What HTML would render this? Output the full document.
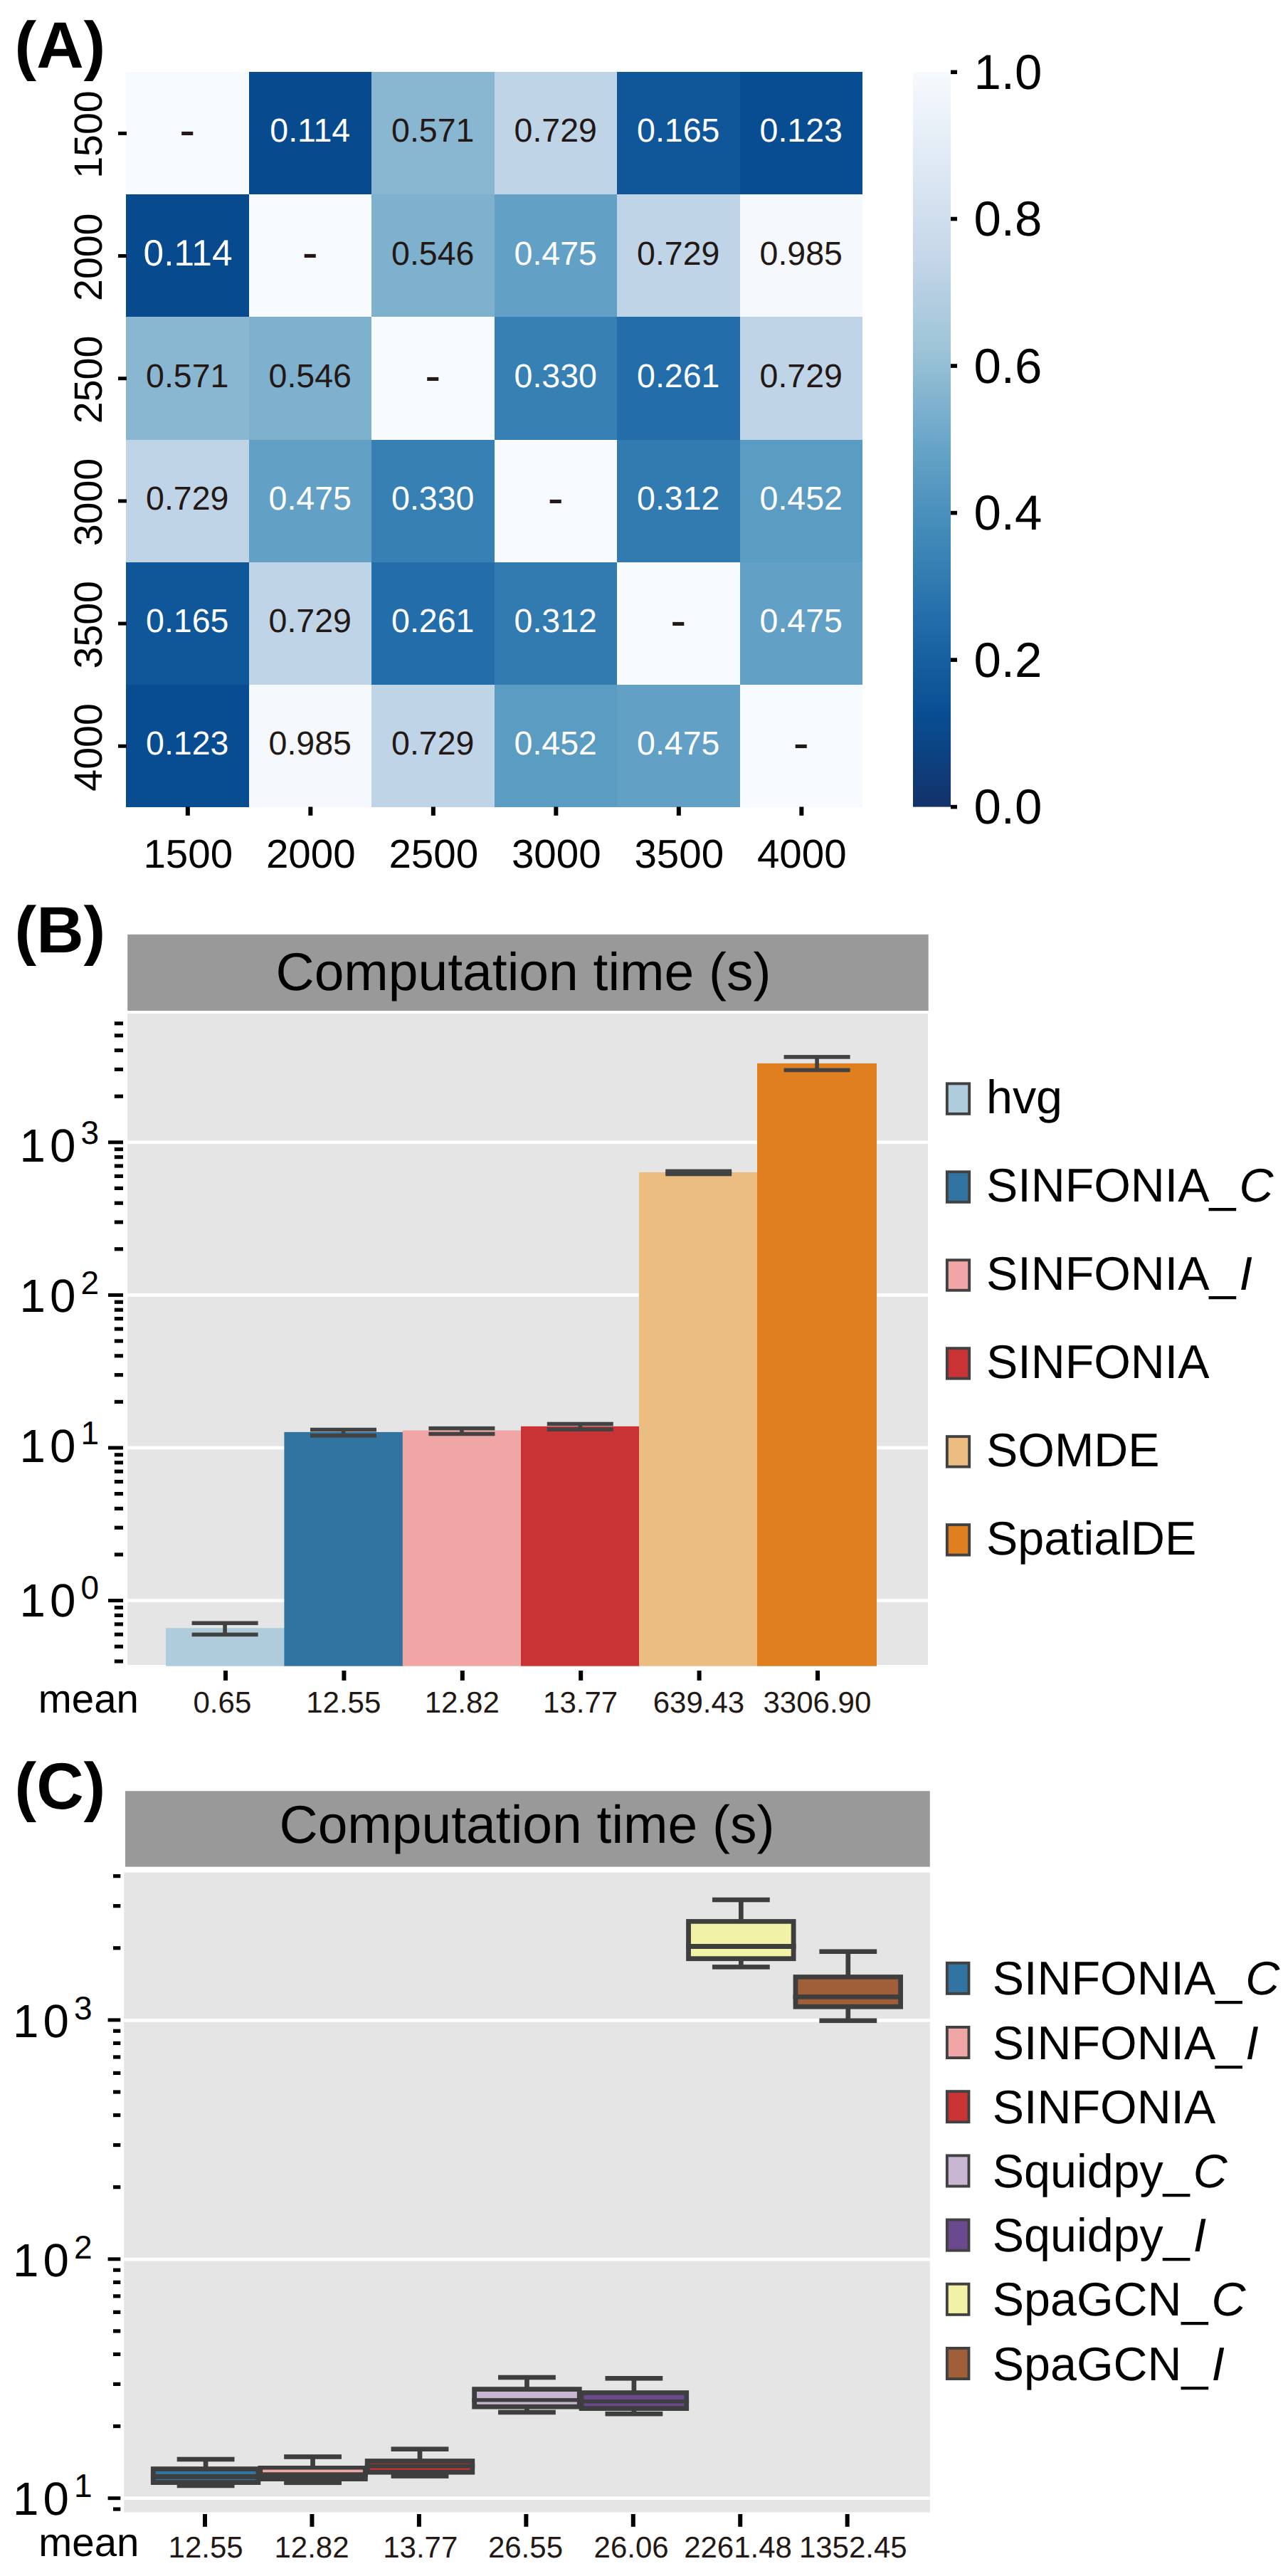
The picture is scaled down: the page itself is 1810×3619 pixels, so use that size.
<!DOCTYPE html>
<html><head><meta charset="utf-8"><title>Figure</title>
<style>
html,body{margin:0;padding:0;background:#fff;}
svg{display:block;font-family:"Liberation Sans", Arial, sans-serif;}
</style></head><body>
<svg width="1810" height="3619" viewBox="0 0 1810 3619" text-rendering="geometricPrecision">
<rect width="1810" height="3619" fill="#fff"/>
<text x="20.50" y="94.70" font-size="92" text-anchor="start" fill="#000" font-weight="bold" font-style="normal" >(A)</text>
<text x="20.50" y="1337.60" font-size="92" text-anchor="start" fill="#000" font-weight="bold" font-style="normal" >(B)</text>
<text x="20.50" y="2541.30" font-size="92" text-anchor="start" fill="#000" font-weight="bold" font-style="normal" >(C)</text>
<rect x="177.00" y="101.00" width="173.00" height="172.00" fill="#f7fafe" />
<rect x="350.00" y="101.00" width="172.00" height="172.00" fill="#084a8e" />
<rect x="522.00" y="101.00" width="173.00" height="172.00" fill="#89b7d1" />
<rect x="695.00" y="101.00" width="172.00" height="172.00" fill="#bfd4e6" />
<rect x="867.00" y="101.00" width="173.00" height="172.00" fill="#105799" />
<rect x="1040.00" y="101.00" width="172.00" height="172.00" fill="#084c91" />
<rect x="177.00" y="273.00" width="173.00" height="172.00" fill="#084a8e" />
<rect x="350.00" y="273.00" width="172.00" height="172.00" fill="#f7fafe" />
<rect x="522.00" y="273.00" width="173.00" height="172.00" fill="#7db1ce" />
<rect x="695.00" y="273.00" width="172.00" height="172.00" fill="#63a0c5" />
<rect x="867.00" y="273.00" width="173.00" height="172.00" fill="#bfd4e6" />
<rect x="1040.00" y="273.00" width="172.00" height="172.00" fill="#f5f8fd" />
<rect x="177.00" y="445.00" width="173.00" height="173.00" fill="#89b7d1" />
<rect x="350.00" y="445.00" width="172.00" height="173.00" fill="#7db1ce" />
<rect x="522.00" y="445.00" width="173.00" height="173.00" fill="#f7fafe" />
<rect x="695.00" y="445.00" width="172.00" height="173.00" fill="#3680b4" />
<rect x="867.00" y="445.00" width="173.00" height="173.00" fill="#236eaa" />
<rect x="1040.00" y="445.00" width="172.00" height="173.00" fill="#bfd4e6" />
<rect x="177.00" y="618.00" width="173.00" height="172.00" fill="#bfd4e6" />
<rect x="350.00" y="618.00" width="172.00" height="172.00" fill="#63a0c5" />
<rect x="522.00" y="618.00" width="173.00" height="172.00" fill="#3680b4" />
<rect x="695.00" y="618.00" width="172.00" height="172.00" fill="#f7fafe" />
<rect x="867.00" y="618.00" width="173.00" height="172.00" fill="#317bb1" />
<rect x="1040.00" y="618.00" width="172.00" height="172.00" fill="#5b9cc2" />
<rect x="177.00" y="790.00" width="173.00" height="172.00" fill="#105799" />
<rect x="350.00" y="790.00" width="172.00" height="172.00" fill="#bfd4e6" />
<rect x="522.00" y="790.00" width="173.00" height="172.00" fill="#236eaa" />
<rect x="695.00" y="790.00" width="172.00" height="172.00" fill="#317bb1" />
<rect x="867.00" y="790.00" width="173.00" height="172.00" fill="#f7fafe" />
<rect x="1040.00" y="790.00" width="172.00" height="172.00" fill="#63a0c5" />
<rect x="177.00" y="962.00" width="173.00" height="172.00" fill="#084c91" />
<rect x="350.00" y="962.00" width="172.00" height="172.00" fill="#f5f8fd" />
<rect x="522.00" y="962.00" width="173.00" height="172.00" fill="#bfd4e6" />
<rect x="695.00" y="962.00" width="172.00" height="172.00" fill="#5b9cc2" />
<rect x="867.00" y="962.00" width="173.00" height="172.00" fill="#63a0c5" />
<rect x="1040.00" y="962.00" width="172.00" height="172.00" fill="#f7fafe" />
<text x="263.25" y="205.28" font-size="66" text-anchor="middle" fill="#231815" font-weight="normal" font-style="normal" >-</text>
<text x="435.75" y="199.48" font-size="46.5" text-anchor="middle" fill="#fff" font-weight="normal" font-style="normal" >0.114</text>
<text x="608.25" y="199.48" font-size="46.5" text-anchor="middle" fill="#231815" font-weight="normal" font-style="normal" >0.571</text>
<text x="780.75" y="199.48" font-size="46.5" text-anchor="middle" fill="#231815" font-weight="normal" font-style="normal" >0.729</text>
<text x="953.25" y="199.48" font-size="46.5" text-anchor="middle" fill="#fff" font-weight="normal" font-style="normal" >0.165</text>
<text x="1125.75" y="199.48" font-size="46.5" text-anchor="middle" fill="#fff" font-weight="normal" font-style="normal" >0.123</text>
<text x="264.05" y="372.75" font-size="51.5" text-anchor="middle" fill="#fff" font-weight="normal" font-style="normal" >0.114</text>
<text x="435.75" y="377.45" font-size="66" text-anchor="middle" fill="#231815" font-weight="normal" font-style="normal" >-</text>
<text x="608.25" y="371.65" font-size="46.5" text-anchor="middle" fill="#231815" font-weight="normal" font-style="normal" >0.546</text>
<text x="780.75" y="371.65" font-size="46.5" text-anchor="middle" fill="#fff" font-weight="normal" font-style="normal" >0.475</text>
<text x="953.25" y="371.65" font-size="46.5" text-anchor="middle" fill="#231815" font-weight="normal" font-style="normal" >0.729</text>
<text x="1125.75" y="371.65" font-size="46.5" text-anchor="middle" fill="#231815" font-weight="normal" font-style="normal" >0.985</text>
<text x="263.25" y="543.82" font-size="46.5" text-anchor="middle" fill="#231815" font-weight="normal" font-style="normal" >0.571</text>
<text x="435.75" y="543.82" font-size="46.5" text-anchor="middle" fill="#231815" font-weight="normal" font-style="normal" >0.546</text>
<text x="608.25" y="549.62" font-size="66" text-anchor="middle" fill="#231815" font-weight="normal" font-style="normal" >-</text>
<text x="780.75" y="543.82" font-size="46.5" text-anchor="middle" fill="#fff" font-weight="normal" font-style="normal" >0.330</text>
<text x="953.25" y="543.82" font-size="46.5" text-anchor="middle" fill="#fff" font-weight="normal" font-style="normal" >0.261</text>
<text x="1125.75" y="543.82" font-size="46.5" text-anchor="middle" fill="#231815" font-weight="normal" font-style="normal" >0.729</text>
<text x="263.25" y="715.98" font-size="46.5" text-anchor="middle" fill="#231815" font-weight="normal" font-style="normal" >0.729</text>
<text x="435.75" y="715.98" font-size="46.5" text-anchor="middle" fill="#fff" font-weight="normal" font-style="normal" >0.475</text>
<text x="608.25" y="715.98" font-size="46.5" text-anchor="middle" fill="#fff" font-weight="normal" font-style="normal" >0.330</text>
<text x="780.75" y="721.78" font-size="66" text-anchor="middle" fill="#231815" font-weight="normal" font-style="normal" >-</text>
<text x="953.25" y="715.98" font-size="46.5" text-anchor="middle" fill="#fff" font-weight="normal" font-style="normal" >0.312</text>
<text x="1125.75" y="715.98" font-size="46.5" text-anchor="middle" fill="#fff" font-weight="normal" font-style="normal" >0.452</text>
<text x="263.25" y="888.15" font-size="46.5" text-anchor="middle" fill="#fff" font-weight="normal" font-style="normal" >0.165</text>
<text x="435.75" y="888.15" font-size="46.5" text-anchor="middle" fill="#231815" font-weight="normal" font-style="normal" >0.729</text>
<text x="608.25" y="888.15" font-size="46.5" text-anchor="middle" fill="#fff" font-weight="normal" font-style="normal" >0.261</text>
<text x="780.75" y="888.15" font-size="46.5" text-anchor="middle" fill="#fff" font-weight="normal" font-style="normal" >0.312</text>
<text x="953.25" y="893.95" font-size="66" text-anchor="middle" fill="#231815" font-weight="normal" font-style="normal" >-</text>
<text x="1125.75" y="888.15" font-size="46.5" text-anchor="middle" fill="#fff" font-weight="normal" font-style="normal" >0.475</text>
<text x="263.25" y="1060.32" font-size="46.5" text-anchor="middle" fill="#fff" font-weight="normal" font-style="normal" >0.123</text>
<text x="435.75" y="1060.32" font-size="46.5" text-anchor="middle" fill="#231815" font-weight="normal" font-style="normal" >0.985</text>
<text x="608.25" y="1060.32" font-size="46.5" text-anchor="middle" fill="#231815" font-weight="normal" font-style="normal" >0.729</text>
<text x="780.75" y="1060.32" font-size="46.5" text-anchor="middle" fill="#fff" font-weight="normal" font-style="normal" >0.452</text>
<text x="953.25" y="1060.32" font-size="46.5" text-anchor="middle" fill="#fff" font-weight="normal" font-style="normal" >0.475</text>
<text x="1125.75" y="1066.12" font-size="66" text-anchor="middle" fill="#231815" font-weight="normal" font-style="normal" >-</text>
<rect x="260.85" y="1133.50" width="6.00" height="12.30" fill="#000" />
<text x="264.25" y="1218.60" font-size="56.5" text-anchor="middle" fill="#000" font-weight="normal" font-style="normal" >1500</text>
<rect x="166.00" y="184.88" width="12.00" height="5.00" fill="#000" />
<text transform="translate(143,189.08) rotate(-90)" font-size="55.5" text-anchor="middle" fill="#000">1500</text>
<rect x="433.35" y="1133.50" width="6.00" height="12.30" fill="#000" />
<text x="436.75" y="1218.60" font-size="56.5" text-anchor="middle" fill="#000" font-weight="normal" font-style="normal" >2000</text>
<rect x="166.00" y="357.05" width="12.00" height="5.00" fill="#000" />
<text transform="translate(143,361.25) rotate(-90)" font-size="55.5" text-anchor="middle" fill="#000">2000</text>
<rect x="605.85" y="1133.50" width="6.00" height="12.30" fill="#000" />
<text x="609.25" y="1218.60" font-size="56.5" text-anchor="middle" fill="#000" font-weight="normal" font-style="normal" >2500</text>
<rect x="166.00" y="529.22" width="12.00" height="5.00" fill="#000" />
<text transform="translate(143,533.42) rotate(-90)" font-size="55.5" text-anchor="middle" fill="#000">2500</text>
<rect x="778.35" y="1133.50" width="6.00" height="12.30" fill="#000" />
<text x="781.75" y="1218.60" font-size="56.5" text-anchor="middle" fill="#000" font-weight="normal" font-style="normal" >3000</text>
<rect x="166.00" y="701.38" width="12.00" height="5.00" fill="#000" />
<text transform="translate(143,705.58) rotate(-90)" font-size="55.5" text-anchor="middle" fill="#000">3000</text>
<rect x="950.85" y="1133.50" width="6.00" height="12.30" fill="#000" />
<text x="954.25" y="1218.60" font-size="56.5" text-anchor="middle" fill="#000" font-weight="normal" font-style="normal" >3500</text>
<rect x="166.00" y="873.55" width="12.00" height="5.00" fill="#000" />
<text transform="translate(143,877.75) rotate(-90)" font-size="55.5" text-anchor="middle" fill="#000">3500</text>
<rect x="1123.35" y="1133.50" width="6.00" height="12.30" fill="#000" />
<text x="1126.75" y="1218.60" font-size="56.5" text-anchor="middle" fill="#000" font-weight="normal" font-style="normal" >4000</text>
<rect x="166.00" y="1045.72" width="12.00" height="5.00" fill="#000" />
<text transform="translate(143,1049.92) rotate(-90)" font-size="55.5" text-anchor="middle" fill="#000">4000</text>
<defs><linearGradient id="cb" x1="0" y1="1" x2="0" y2="0">
<stop offset="0.0000" stop-color="#13326a"/>
<stop offset="0.1250" stop-color="#084d92"/>
<stop offset="0.2500" stop-color="#216ca9"/>
<stop offset="0.3750" stop-color="#428bb9"/>
<stop offset="0.5000" stop-color="#6ba6c9"/>
<stop offset="0.6250" stop-color="#9ec4d8"/>
<stop offset="0.7500" stop-color="#c6d7e9"/>
<stop offset="0.8750" stop-color="#dee9f4"/>
<stop offset="1.0000" stop-color="#f7fafe"/>
</linearGradient></defs>
<rect x="1283.00" y="101.00" width="53.00" height="1032.60" fill="url(#cb)" />
<rect x="1336.00" y="1130.80" width="9.00" height="5.60" fill="#000" />
<text x="1368.50" y="1157.10" font-size="69" text-anchor="start" fill="#000" font-weight="normal" font-style="normal" >0.0</text>
<rect x="1336.00" y="924.28" width="9.00" height="5.60" fill="#000" />
<text x="1368.50" y="950.58" font-size="69" text-anchor="start" fill="#000" font-weight="normal" font-style="normal" >0.2</text>
<rect x="1336.00" y="717.76" width="9.00" height="5.60" fill="#000" />
<text x="1368.50" y="744.06" font-size="69" text-anchor="start" fill="#000" font-weight="normal" font-style="normal" >0.4</text>
<rect x="1336.00" y="511.24" width="9.00" height="5.60" fill="#000" />
<text x="1368.50" y="537.54" font-size="69" text-anchor="start" fill="#000" font-weight="normal" font-style="normal" >0.6</text>
<rect x="1336.00" y="304.72" width="9.00" height="5.60" fill="#000" />
<text x="1368.50" y="331.02" font-size="69" text-anchor="start" fill="#000" font-weight="normal" font-style="normal" >0.8</text>
<rect x="1336.00" y="98.50" width="9.00" height="5.60" fill="#000" />
<text x="1368.50" y="124.80" font-size="69" text-anchor="start" fill="#000" font-weight="normal" font-style="normal" >1.0</text>
<rect x="179.20" y="1312.80" width="1125.50" height="107.20" fill="#999999" />
<rect x="179.20" y="1424.00" width="1124.80" height="915.00" fill="#e5e5e5" />
<text x="387.50" y="1391.00" font-size="75" text-anchor="start" fill="#000" font-weight="normal" font-style="normal" >Computation time (s)</text>
<rect x="179.20" y="1602.50" width="1124.60" height="4.60" fill="#fff" />
<rect x="179.20" y="1817.10" width="1124.60" height="4.60" fill="#fff" />
<rect x="179.20" y="2031.70" width="1124.60" height="4.60" fill="#fff" />
<rect x="179.20" y="2246.30" width="1124.60" height="4.60" fill="#fff" />
<rect x="233.00" y="2287.20" width="167.40" height="53.50" fill="#aeccdb" />
<rect x="399.40" y="2011.90" width="167.40" height="328.80" fill="#3274a1" />
<rect x="565.80" y="2009.60" width="167.20" height="331.10" fill="#efa6a5" />
<rect x="732.00" y="2003.80" width="167.00" height="336.90" fill="#ca3335" />
<rect x="898.00" y="1646.90" width="167.00" height="693.80" fill="#ebbd81" />
<rect x="1064.00" y="1493.90" width="168.00" height="846.80" fill="#df7f20" />
<rect x="313.30" y="2280.30" width="5.60" height="16.10" fill="#424242" />
<rect x="269.60" y="2277.50" width="93.00" height="5.60" fill="#424242" />
<rect x="269.60" y="2293.60" width="93.00" height="5.60" fill="#424242" />
<rect x="479.70" y="2008.60" width="5.60" height="8.20" fill="#424242" />
<rect x="436.00" y="2005.80" width="93.00" height="5.60" fill="#424242" />
<rect x="436.00" y="2014.00" width="93.00" height="5.60" fill="#424242" />
<rect x="646.10" y="2006.70" width="5.60" height="7.80" fill="#424242" />
<rect x="602.40" y="2003.90" width="93.00" height="5.60" fill="#424242" />
<rect x="602.40" y="2011.70" width="93.00" height="5.60" fill="#424242" />
<rect x="812.50" y="2000.50" width="5.60" height="7.70" fill="#424242" />
<rect x="768.80" y="1997.70" width="93.00" height="5.60" fill="#424242" />
<rect x="768.80" y="2005.40" width="93.00" height="5.60" fill="#424242" />
<rect x="978.90" y="1645.40" width="5.60" height="4.10" fill="#424242" />
<rect x="935.20" y="1642.60" width="93.00" height="5.60" fill="#424242" />
<rect x="935.20" y="1646.70" width="93.00" height="5.60" fill="#424242" />
<rect x="1145.30" y="1484.90" width="5.60" height="18.50" fill="#424242" />
<rect x="1101.60" y="1482.10" width="93.00" height="5.60" fill="#424242" />
<rect x="1101.60" y="1500.60" width="93.00" height="5.60" fill="#424242" />
<rect x="160.80" y="2331.40" width="12.20" height="5.20" fill="#000" />
<rect x="160.80" y="2310.60" width="12.20" height="5.20" fill="#000" />
<rect x="160.80" y="2293.61" width="12.20" height="5.20" fill="#000" />
<rect x="160.80" y="2279.24" width="12.20" height="5.20" fill="#000" />
<rect x="160.80" y="2266.80" width="12.20" height="5.20" fill="#000" />
<rect x="160.80" y="2255.82" width="12.20" height="5.20" fill="#000" />
<rect x="152.00" y="2246.10" width="21.00" height="5.00" fill="#000" />
<rect x="160.80" y="2181.40" width="12.20" height="5.20" fill="#000" />
<rect x="160.80" y="2143.61" width="12.20" height="5.20" fill="#000" />
<rect x="160.80" y="2116.80" width="12.20" height="5.20" fill="#000" />
<rect x="160.80" y="2096.00" width="12.20" height="5.20" fill="#000" />
<rect x="160.80" y="2079.01" width="12.20" height="5.20" fill="#000" />
<rect x="160.80" y="2064.64" width="12.20" height="5.20" fill="#000" />
<rect x="160.80" y="2052.20" width="12.20" height="5.20" fill="#000" />
<rect x="160.80" y="2041.22" width="12.20" height="5.20" fill="#000" />
<rect x="152.00" y="2031.50" width="21.00" height="5.00" fill="#000" />
<rect x="160.80" y="1966.80" width="12.20" height="5.20" fill="#000" />
<rect x="160.80" y="1929.01" width="12.20" height="5.20" fill="#000" />
<rect x="160.80" y="1902.20" width="12.20" height="5.20" fill="#000" />
<rect x="160.80" y="1881.40" width="12.20" height="5.20" fill="#000" />
<rect x="160.80" y="1864.41" width="12.20" height="5.20" fill="#000" />
<rect x="160.80" y="1850.04" width="12.20" height="5.20" fill="#000" />
<rect x="160.80" y="1837.60" width="12.20" height="5.20" fill="#000" />
<rect x="160.80" y="1826.62" width="12.20" height="5.20" fill="#000" />
<rect x="152.00" y="1816.90" width="21.00" height="5.00" fill="#000" />
<rect x="160.80" y="1752.20" width="12.20" height="5.20" fill="#000" />
<rect x="160.80" y="1714.41" width="12.20" height="5.20" fill="#000" />
<rect x="160.80" y="1687.60" width="12.20" height="5.20" fill="#000" />
<rect x="160.80" y="1666.80" width="12.20" height="5.20" fill="#000" />
<rect x="160.80" y="1649.81" width="12.20" height="5.20" fill="#000" />
<rect x="160.80" y="1635.44" width="12.20" height="5.20" fill="#000" />
<rect x="160.80" y="1623.00" width="12.20" height="5.20" fill="#000" />
<rect x="160.80" y="1612.02" width="12.20" height="5.20" fill="#000" />
<rect x="152.00" y="1602.30" width="21.00" height="5.00" fill="#000" />
<rect x="160.80" y="1537.60" width="12.20" height="5.20" fill="#000" />
<rect x="160.80" y="1499.81" width="12.20" height="5.20" fill="#000" />
<rect x="160.80" y="1473.00" width="12.20" height="5.20" fill="#000" />
<rect x="160.80" y="1452.20" width="12.20" height="5.20" fill="#000" />
<rect x="160.80" y="1435.21" width="12.20" height="5.20" fill="#000" />
<text x="27.50" y="1632.20" font-size="65.5" fill="#000" letter-spacing="6">10</text>
<text x="113.50" y="1607.20" font-size="46" fill="#000">3</text>
<text x="27.50" y="1842.70" font-size="65.5" fill="#000" letter-spacing="6">10</text>
<text x="113.50" y="1817.70" font-size="46" fill="#000">2</text>
<text x="27.50" y="2053.70" font-size="65.5" fill="#000" letter-spacing="6">10</text>
<text x="113.50" y="2028.70" font-size="46" fill="#000">1</text>
<text x="27.50" y="2271.20" font-size="65.5" fill="#000" letter-spacing="6">10</text>
<text x="113.50" y="2246.20" font-size="46" fill="#000">0</text>
<rect x="314.00" y="2347.00" width="6.00" height="13.90" fill="#000" />
<text x="312.40" y="2405.70" font-size="42" text-anchor="middle" fill="#231815" font-weight="normal" font-style="normal" >0.65</text>
<rect x="480.40" y="2347.00" width="6.00" height="13.90" fill="#000" />
<text x="482.80" y="2405.70" font-size="42" text-anchor="middle" fill="#231815" font-weight="normal" font-style="normal" >12.55</text>
<rect x="646.80" y="2347.00" width="6.00" height="13.90" fill="#000" />
<text x="649.20" y="2405.70" font-size="42" text-anchor="middle" fill="#231815" font-weight="normal" font-style="normal" >12.82</text>
<rect x="813.20" y="2347.00" width="6.00" height="13.90" fill="#000" />
<text x="815.60" y="2405.70" font-size="42" text-anchor="middle" fill="#231815" font-weight="normal" font-style="normal" >13.77</text>
<rect x="979.60" y="2347.00" width="6.00" height="13.90" fill="#000" />
<text x="982.00" y="2405.70" font-size="42" text-anchor="middle" fill="#231815" font-weight="normal" font-style="normal" >639.43</text>
<rect x="1146.00" y="2347.00" width="6.00" height="13.90" fill="#000" />
<text x="1148.40" y="2405.70" font-size="42" text-anchor="middle" fill="#231815" font-weight="normal" font-style="normal" >3306.90</text>
<text x="53.80" y="2405.90" font-size="56.4" text-anchor="start" fill="#000" font-weight="normal" font-style="normal" >mean</text>
<rect x="1330.85" y="1522.35" width="31.30" height="42.50" fill="#aeccdb" stroke="#414141" stroke-width="3.9"/>
<text x="1386.00" y="1564.20" font-size="66.4" text-anchor="start" fill="#000" font-weight="normal" font-style="normal" >hvg</text>
<rect x="1330.85" y="1646.30" width="31.30" height="42.50" fill="#3274a1" stroke="#414141" stroke-width="3.9"/>
<text x="1386.00" y="1688.15" font-size="66.4" fill="#000">SINFONIA_<tspan font-style="italic" dx="5">C</tspan></text>
<rect x="1330.85" y="1770.25" width="31.30" height="42.50" fill="#efa6a5" stroke="#414141" stroke-width="3.9"/>
<text x="1386.00" y="1812.10" font-size="66.4" fill="#000">SINFONIA_<tspan font-style="italic" dx="5">I</tspan></text>
<rect x="1330.85" y="1894.20" width="31.30" height="42.50" fill="#ca3335" stroke="#414141" stroke-width="3.9"/>
<text x="1386.00" y="1936.05" font-size="66.4" text-anchor="start" fill="#000" font-weight="normal" font-style="normal" >SINFONIA</text>
<rect x="1330.85" y="2018.15" width="31.30" height="42.50" fill="#ebbd81" stroke="#414141" stroke-width="3.9"/>
<text x="1386.00" y="2060.00" font-size="66.4" text-anchor="start" fill="#000" font-weight="normal" font-style="normal" >SOMDE</text>
<rect x="1330.85" y="2142.10" width="31.30" height="42.50" fill="#df7f20" stroke="#414141" stroke-width="3.9"/>
<text x="1386.00" y="2183.95" font-size="66.4" text-anchor="start" fill="#000" font-weight="normal" font-style="normal" >SpatialDE</text>
<rect x="176.00" y="2516.20" width="1130.80" height="106.40" fill="#999999" />
<rect x="174.20" y="2630.80" width="1132.60" height="898.70" fill="#e5e5e5" />
<text x="392.50" y="2589.00" font-size="75" text-anchor="start" fill="#000" font-weight="normal" font-style="normal" >Computation time (s)</text>
<rect x="174.20" y="2836.10" width="1132.60" height="4.60" fill="#fff" />
<rect x="174.20" y="3171.80" width="1132.60" height="4.60" fill="#fff" />
<rect x="174.20" y="3507.40" width="1132.60" height="4.60" fill="#fff" />
<rect x="159.00" y="3522.47" width="10.30" height="5.20" fill="#000" />
<rect x="151.60" y="3507.20" width="17.70" height="5.00" fill="#000" />
<rect x="159.00" y="3405.98" width="10.30" height="5.20" fill="#000" />
<rect x="159.00" y="3346.83" width="10.30" height="5.20" fill="#000" />
<rect x="159.00" y="3304.87" width="10.30" height="5.20" fill="#000" />
<rect x="159.00" y="3272.32" width="10.30" height="5.20" fill="#000" />
<rect x="159.00" y="3245.72" width="10.30" height="5.20" fill="#000" />
<rect x="159.00" y="3223.23" width="10.30" height="5.20" fill="#000" />
<rect x="159.00" y="3203.75" width="10.30" height="5.20" fill="#000" />
<rect x="159.00" y="3186.57" width="10.30" height="5.20" fill="#000" />
<rect x="151.60" y="3171.30" width="17.70" height="5.00" fill="#000" />
<rect x="159.00" y="3070.08" width="10.30" height="5.20" fill="#000" />
<rect x="159.00" y="3010.93" width="10.30" height="5.20" fill="#000" />
<rect x="159.00" y="2968.97" width="10.30" height="5.20" fill="#000" />
<rect x="159.00" y="2936.42" width="10.30" height="5.20" fill="#000" />
<rect x="159.00" y="2909.82" width="10.30" height="5.20" fill="#000" />
<rect x="159.00" y="2887.33" width="10.30" height="5.20" fill="#000" />
<rect x="159.00" y="2867.85" width="10.30" height="5.20" fill="#000" />
<rect x="159.00" y="2850.67" width="10.30" height="5.20" fill="#000" />
<rect x="151.60" y="2835.40" width="17.70" height="5.00" fill="#000" />
<rect x="159.00" y="2734.18" width="10.30" height="5.20" fill="#000" />
<rect x="159.00" y="2675.03" width="10.30" height="5.20" fill="#000" />
<rect x="159.00" y="2633.07" width="10.30" height="5.20" fill="#000" />
<text x="18.00" y="2862.10" font-size="65.5" fill="#000" letter-spacing="6">10</text>
<text x="104.00" y="2837.10" font-size="46" fill="#000">3</text>
<text x="18.00" y="3198.20" font-size="65.5" fill="#000" letter-spacing="6">10</text>
<text x="104.00" y="3173.20" font-size="46" fill="#000">2</text>
<text x="18.00" y="3533.00" font-size="65.5" fill="#000" letter-spacing="6">10</text>
<text x="104.00" y="3508.00" font-size="46" fill="#000">1</text>
<rect x="285.75" y="3455.00" width="6.70" height="12.20" fill="#3e3e3e" />
<rect x="285.75" y="3489.00" width="6.70" height="3.00" fill="#3e3e3e" />
<rect x="248.70" y="3451.70" width="80.80" height="6.60" fill="#3e3e3e" />
<rect x="248.70" y="3488.70" width="80.80" height="6.60" fill="#3e3e3e" />
<rect x="436.20" y="3451.50" width="6.70" height="14.50" fill="#3e3e3e" />
<rect x="436.20" y="3484.00" width="6.70" height="3.80" fill="#3e3e3e" />
<rect x="399.15" y="3448.20" width="80.80" height="6.60" fill="#3e3e3e" />
<rect x="399.15" y="3484.50" width="80.80" height="6.60" fill="#3e3e3e" />
<rect x="586.65" y="3440.70" width="6.70" height="15.40" fill="#3e3e3e" />
<rect x="586.65" y="3474.60" width="6.70" height="4.00" fill="#3e3e3e" />
<rect x="549.60" y="3437.40" width="80.80" height="6.60" fill="#3e3e3e" />
<rect x="549.60" y="3475.30" width="80.80" height="6.60" fill="#3e3e3e" />
<rect x="737.10" y="3340.00" width="6.70" height="15.20" fill="#3e3e3e" />
<rect x="737.10" y="3382.60" width="6.70" height="6.40" fill="#3e3e3e" />
<rect x="700.05" y="3336.70" width="80.80" height="6.60" fill="#3e3e3e" />
<rect x="700.05" y="3385.70" width="80.80" height="6.60" fill="#3e3e3e" />
<rect x="887.55" y="3341.30" width="6.70" height="18.90" fill="#3e3e3e" />
<rect x="887.55" y="3385.00" width="6.70" height="6.20" fill="#3e3e3e" />
<rect x="850.50" y="3338.00" width="80.80" height="6.60" fill="#3e3e3e" />
<rect x="850.50" y="3387.90" width="80.80" height="6.60" fill="#3e3e3e" />
<rect x="1038.00" y="2669.00" width="6.70" height="29.10" fill="#3e3e3e" />
<rect x="1038.00" y="2753.10" width="6.70" height="10.30" fill="#3e3e3e" />
<rect x="1000.95" y="2665.70" width="80.80" height="6.60" fill="#3e3e3e" />
<rect x="1000.95" y="2760.10" width="80.80" height="6.60" fill="#3e3e3e" />
<rect x="1188.45" y="2741.70" width="6.70" height="34.40" fill="#3e3e3e" />
<rect x="1188.45" y="2820.60" width="6.70" height="18.20" fill="#3e3e3e" />
<rect x="1151.40" y="2738.40" width="80.80" height="6.60" fill="#3e3e3e" />
<rect x="1151.40" y="2835.50" width="80.80" height="6.60" fill="#3e3e3e" />
<rect x="211.90" y="3465.20" width="154.40" height="25.80" fill="#3e3e3e" />
<rect x="218.70" y="3472.00" width="140.80" height="12.20" fill="#3274a1" />
<rect x="211.90" y="3476.00" width="154.40" height="6.90" fill="#3e3e3e" />
<rect x="362.35" y="3464.00" width="154.40" height="22.00" fill="#3e3e3e" />
<rect x="369.15" y="3469.60" width="140.80" height="9.60" fill="#efa6a5" />
<rect x="362.35" y="3473.30" width="154.40" height="6.70" fill="#3e3e3e" />
<rect x="512.80" y="3454.10" width="154.40" height="22.50" fill="#3e3e3e" />
<rect x="519.60" y="3460.90" width="140.80" height="8.90" fill="#ca3335" />
<rect x="512.80" y="3461.60" width="154.40" height="6.10" fill="#3e3e3e" />
<rect x="663.25" y="3353.20" width="154.40" height="31.40" fill="#3e3e3e" />
<rect x="670.05" y="3360.00" width="140.80" height="17.80" fill="#c8b6d2" />
<rect x="663.25" y="3369.10" width="154.40" height="5.40" fill="#3e3e3e" />
<rect x="813.70" y="3358.20" width="154.40" height="28.80" fill="#3e3e3e" />
<rect x="820.50" y="3364.80" width="140.80" height="15.40" fill="#6a498e" />
<rect x="813.70" y="3371.00" width="154.40" height="5.50" fill="#3e3e3e" />
<rect x="964.15" y="2696.10" width="154.40" height="59.00" fill="#3e3e3e" />
<rect x="970.95" y="2702.70" width="140.80" height="45.60" fill="#f2f2a6" />
<rect x="964.15" y="2731.00" width="154.40" height="7.00" fill="#3e3e3e" />
<rect x="1114.60" y="2774.10" width="154.40" height="48.50" fill="#3e3e3e" />
<rect x="1121.40" y="2780.70" width="140.80" height="35.10" fill="#a05e39" />
<rect x="1114.60" y="2802.10" width="154.40" height="6.60" fill="#3e3e3e" />
<rect x="285.00" y="3532.00" width="6.00" height="17.80" fill="#000" />
<text x="289.10" y="3592.60" font-size="42" text-anchor="middle" fill="#231815" font-weight="normal" font-style="normal" >12.55</text>
<rect x="435.45" y="3532.00" width="6.00" height="17.80" fill="#000" />
<text x="438.05" y="3592.60" font-size="42" text-anchor="middle" fill="#231815" font-weight="normal" font-style="normal" >12.82</text>
<rect x="585.90" y="3532.00" width="6.00" height="17.80" fill="#000" />
<text x="590.80" y="3592.60" font-size="42" text-anchor="middle" fill="#231815" font-weight="normal" font-style="normal" >13.77</text>
<rect x="736.35" y="3532.00" width="6.00" height="17.80" fill="#000" />
<text x="738.45" y="3592.60" font-size="42" text-anchor="middle" fill="#231815" font-weight="normal" font-style="normal" >26.55</text>
<rect x="886.80" y="3532.00" width="6.00" height="17.80" fill="#000" />
<text x="887.10" y="3592.60" font-size="42" text-anchor="middle" fill="#231815" font-weight="normal" font-style="normal" >26.06</text>
<rect x="1037.25" y="3532.00" width="6.00" height="17.80" fill="#000" />
<text x="1037.05" y="3592.60" font-size="42" text-anchor="middle" fill="#231815" font-weight="normal" font-style="normal" >2261.48</text>
<rect x="1187.70" y="3532.00" width="6.00" height="17.80" fill="#000" />
<text x="1198.80" y="3592.60" font-size="42" text-anchor="middle" fill="#231815" font-weight="normal" font-style="normal" >1352.45</text>
<text x="54.30" y="3591.40" font-size="56.4" text-anchor="start" fill="#000" font-weight="normal" font-style="normal" >mean</text>
<rect x="1330.85" y="2757.75" width="30.60" height="43.10" fill="#3274a1" stroke="#414141" stroke-width="3.9"/>
<text x="1394.80" y="2802.40" font-size="66.4" fill="#000">SINFONIA_<tspan font-style="italic" dx="5">C</tspan></text>
<rect x="1330.85" y="2847.95" width="30.60" height="43.10" fill="#efa6a5" stroke="#414141" stroke-width="3.9"/>
<text x="1394.80" y="2892.60" font-size="66.4" fill="#000">SINFONIA_<tspan font-style="italic" dx="5">I</tspan></text>
<rect x="1330.85" y="2938.15" width="30.60" height="43.10" fill="#ca3335" stroke="#414141" stroke-width="3.9"/>
<text x="1394.80" y="2982.80" font-size="66.4" text-anchor="start" fill="#000" font-weight="normal" font-style="normal" >SINFONIA</text>
<rect x="1330.85" y="3028.35" width="30.60" height="43.10" fill="#c8b6d2" stroke="#414141" stroke-width="3.9"/>
<text x="1394.80" y="3073.00" font-size="66.4" fill="#000">Squidpy_<tspan font-style="italic" dx="5">C</tspan></text>
<rect x="1330.85" y="3118.55" width="30.60" height="43.10" fill="#6a498e" stroke="#414141" stroke-width="3.9"/>
<text x="1394.80" y="3163.20" font-size="66.4" fill="#000">Squidpy_<tspan font-style="italic" dx="5">I</tspan></text>
<rect x="1330.85" y="3208.75" width="30.60" height="43.10" fill="#f2f2a6" stroke="#414141" stroke-width="3.9"/>
<text x="1394.80" y="3253.40" font-size="66.4" fill="#000">SpaGCN_<tspan font-style="italic" dx="5">C</tspan></text>
<rect x="1330.85" y="3298.95" width="30.60" height="43.10" fill="#a05e39" stroke="#414141" stroke-width="3.9"/>
<text x="1394.80" y="3343.60" font-size="66.4" fill="#000">SpaGCN_<tspan font-style="italic" dx="5">I</tspan></text>
</svg>
</body></html>
